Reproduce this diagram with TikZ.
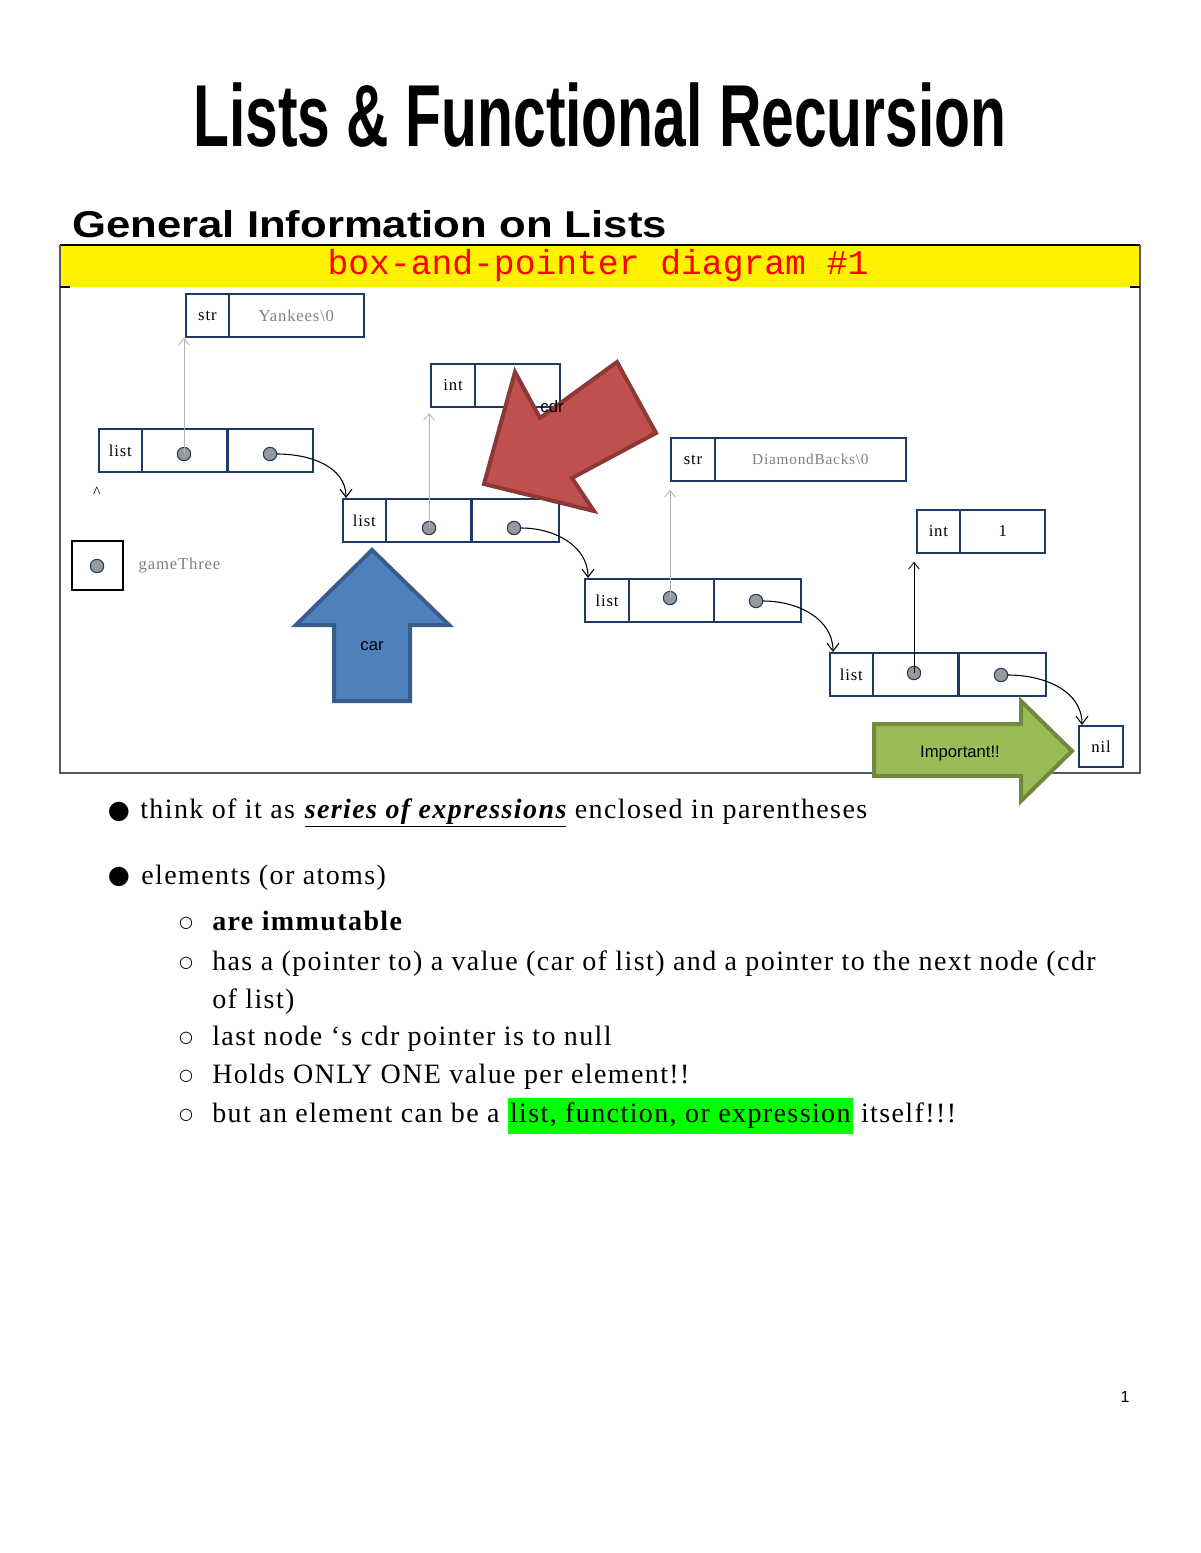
\documentclass[tikz,border=0pt]{standalone}
\usepackage{fontspec}
\setmainfont{Liberation Serif}[LetterSpace=5]
\newfontfamily\sansf{Liberation Sans}
\newfontfamily\monof{Liberation Mono}
\newfontfamily\dvs{DejaVu Sans}
\usetikzlibrary{arrows.meta}
\definecolor{bx}{RGB}{31,56,100}
\definecolor{redA}{RGB}{192,80,77}
\definecolor{redB}{RGB}{140,56,54}
\definecolor{bluA}{RGB}{79,129,189}
\definecolor{bluB}{RGB}{56,93,138}
\definecolor{grnA}{RGB}{155,187,89}
\definecolor{grnB}{RGB}{113,137,63}
\definecolor{hl}{RGB}{0,255,0}
\begin{document}
\begin{tikzpicture}[x=0.75pt,y=-0.75pt,
  cell/.style={draw=bx,line width=1.6pt,minimum height=32pt,inner sep=0pt,anchor=north west,font=\fontsize{12.5}{14}\selectfont},
  dot/.style={circle,draw=bx,fill=gray!80,line width=0.8pt,minimum size=10pt,inner sep=0pt},
  up/.style={-{Straight Barb[length=5pt,width=8pt]},gray!60,line width=0.6pt},
  cur/.style={-{Straight Barb[length=6pt,width=9pt]},black,line width=0.8pt},
  txt/.style={anchor=base west,font=\fontsize{21}{24}\selectfont,inner sep=0pt}]
\useasboundingbox (0,0) rectangle (1200,1553);
\fill[white] (0,0) rectangle (1200,1553);
% title
\node (title) at (600,115) {\sansf\bfseries\fontsize{66}{70}\selectfont\scalebox{0.668}[1]{Lists \& Functional Recursion}};
\node[anchor=west,inner sep=0pt] (head) at (72,224) {\sansf\bfseries\fontsize{28}{32}\selectfont\scalebox{1.17}[1]{General Information on Lists}};
% band
\fill[yellow] (60,245) rectangle (1140,287);
\draw[line width=1pt] (60,245) -- (1140,245);
\draw[gray!70!black,line width=0.8pt] (60,245) -- (60,773) -- (1140,773) -- (1140,245);
\draw[line width=0.8pt] (60,287) -- (70,287) (1130,287) -- (1140,287);
\node (band) at (598,266) {\monof\color{red}\fontsize{26}{30}\selectfont box-and-pointer diagram \#1};
% boxes
\node[cell,minimum width=32pt] (ys) at (185,293) {str};
\node[cell,minimum width=101pt,text=gray] (yv) at (228,293) {Yankees\textbackslash 0};
\node[cell,minimum width=33pt] (is) at (430,363) {int};
\node[cell,minimum width=64pt] (iv) at (474,363) {};
\node[cell,minimum width=32pt] (l1a) at (98,428) {list};
\node[cell,minimum width=64pt] (l1b) at (141,428) {};
\node[cell,minimum width=64pt] (l1c) at (227,428) {};
\node[cell,minimum width=32pt] (l2a) at (342,498) {list};
\node[cell,minimum width=64pt] (l2b) at (385,498) {};
\node[cell,minimum width=65pt] (l2c) at (471,498) {};
\node[cell,minimum width=33pt] (ds) at (670,437) {str};
\node[cell,minimum width=143pt,text=gray] (dv) at (714,437) {\fontsize{11.5}{13}\selectfont DiamondBacks\textbackslash 0};
\node[cell,minimum width=32pt] (i1s) at (916,509) {int};
\node[cell,minimum width=64pt] (i1v) at (959,509) {1};
\node[cell,minimum width=33pt] (l3a) at (584,578) {list};
\node[cell,minimum width=64pt] (l3b) at (628,578) {};
\node[cell,minimum width=65pt] (l3c) at (713,578) {};
\node[cell,minimum width=32pt] (l4a) at (829,652) {list};
\node[cell,minimum width=64pt] (l4b) at (872,652) {};
\node[cell,minimum width=65pt] (l4c) at (958,652) {};
\node[cell,minimum width=33pt,minimum height=31pt] (nil) at (1078,725) {nil};
\node[draw,line width=1.6pt,minimum width=38pt,minimum height=37pt,inner sep=0pt,anchor=north west] (g3) at (71,540) {};
\node[dot] (g3d) at (97,566) {};
\node[anchor=west,text=gray,font=\fontsize{12.5}{14}\selectfont] (g3t) at (134,566) {gameThree};
\node[font=\fontsize{12}{14}\selectfont] (caret) at (97,492) {\^{}};
% dots
\node[dot] (d1a) at (184,454) {};
\node[dot] (d1b) at (270,454) {};
\node[dot] (d2a) at (429,528) {};
\node[dot] (d2b) at (514,528) {};
\node[dot] (d3a) at (670,598) {};
\node[dot] (d3b) at (756,601) {};
\node[dot] (d4a) at (914,673) {};
\node[dot] (d4b) at (1001,675) {};
\coordinate (t2) at (429,413);
% pointers
\draw[up] (d1a.center) -- (ys.south west -| d1a) ;
\draw[up] (d2a.center) -- (t2);
\draw[up] (d3a.center) -- ([yshift=-6pt]ds.south west -| d3a);
\draw[up,black] (d4a.center) -- ([yshift=-6pt]i1s.south west -| d4a);
\draw[cur] (d1b.east) to[out=0,in=90] ([xshift=3pt]l2a.north west);
\draw[cur] (d2b.east) to[out=0,in=90] ([xshift=3pt]l3a.north west);
\draw[cur] (d3b.east) to[out=0,in=90] ([xshift=3pt]l4a.north west);
\draw[cur] (d4b.east) to[out=0,in=90] ([xshift=3pt]nil.north west);
% block arrows
\draw[fill=redA,draw=redB,line width=3pt,line join=miter] (484,484) -- (515,372) -- (540,418) -- (617,362) -- (656,433) -- (572,478) -- (594,511) -- cycle;
\node[font=\sansf\fontsize{12.5}{14}\selectfont] (cdr) at (552,407) {cdr};
\draw[fill=bluA,draw=bluB,line width=3pt,line join=miter] (372,550) -- (449,625) -- (410,625) -- (410,701) -- (334,701) -- (334,625) -- (296,625) -- cycle;
\node[font=\sansf\fontsize{12.5}{14}\selectfont] (car) at (372,646) {car};
\draw[fill=grnA,draw=grnB,line width=3pt,line join=miter] (874,724) -- (1021,724) -- (1021,701) -- (1072,751) -- (1021,801) -- (1021,776) -- (874,776) -- cycle;
\node[font=\sansf\fontsize{12.5}{14}\selectfont] (imp) at (960,753) {Important!!};
% text
\node[font=\dvs\fontsize{19}{20}\selectfont] (b1) at (119,812) {●};
\node[txt] (t1) at (140,818) {think of it as \textbf{\textit{\underline{series of expressions}}} enclosed in parentheses};
\node[font=\dvs\fontsize{19}{20}\selectfont] (b2) at (119,877) {●};
\node[txt] (t2x) at (141,884) {elements (or atoms)};
\foreach \y/\n in {929/s1,969/s2,1044/s3,1082/s4,1121/s5}
  \node[font=\dvs\fontsize{12}{14}\selectfont] (\n) at (186,\y-6) {○};
\node[txt] (u1) at (212,930) {\textbf{are immutable}};
\node[txt] (u2) at (212,970) {has a (pointer to) a value (car of list) and a pointer to the next node (cdr};
\node[txt] (u2b) at (212,1008) {of list)};
\node[txt] (u3) at (212,1045) {last node `s cdr pointer is to null};
\node[txt] (u4) at (212,1083) {Holds ONLY ONE value per element!!};
\node[txt] (u5) at (212,1122) {but an element can be a {\setlength{\fboxsep}{1.5pt}\colorbox{hl}{\strut list, function, or expression}} itself!!!};
\node[font=\sansf\fontsize{12}{14}\selectfont] (pg) at (1125,1397) {1};
\end{tikzpicture}
\end{document}
